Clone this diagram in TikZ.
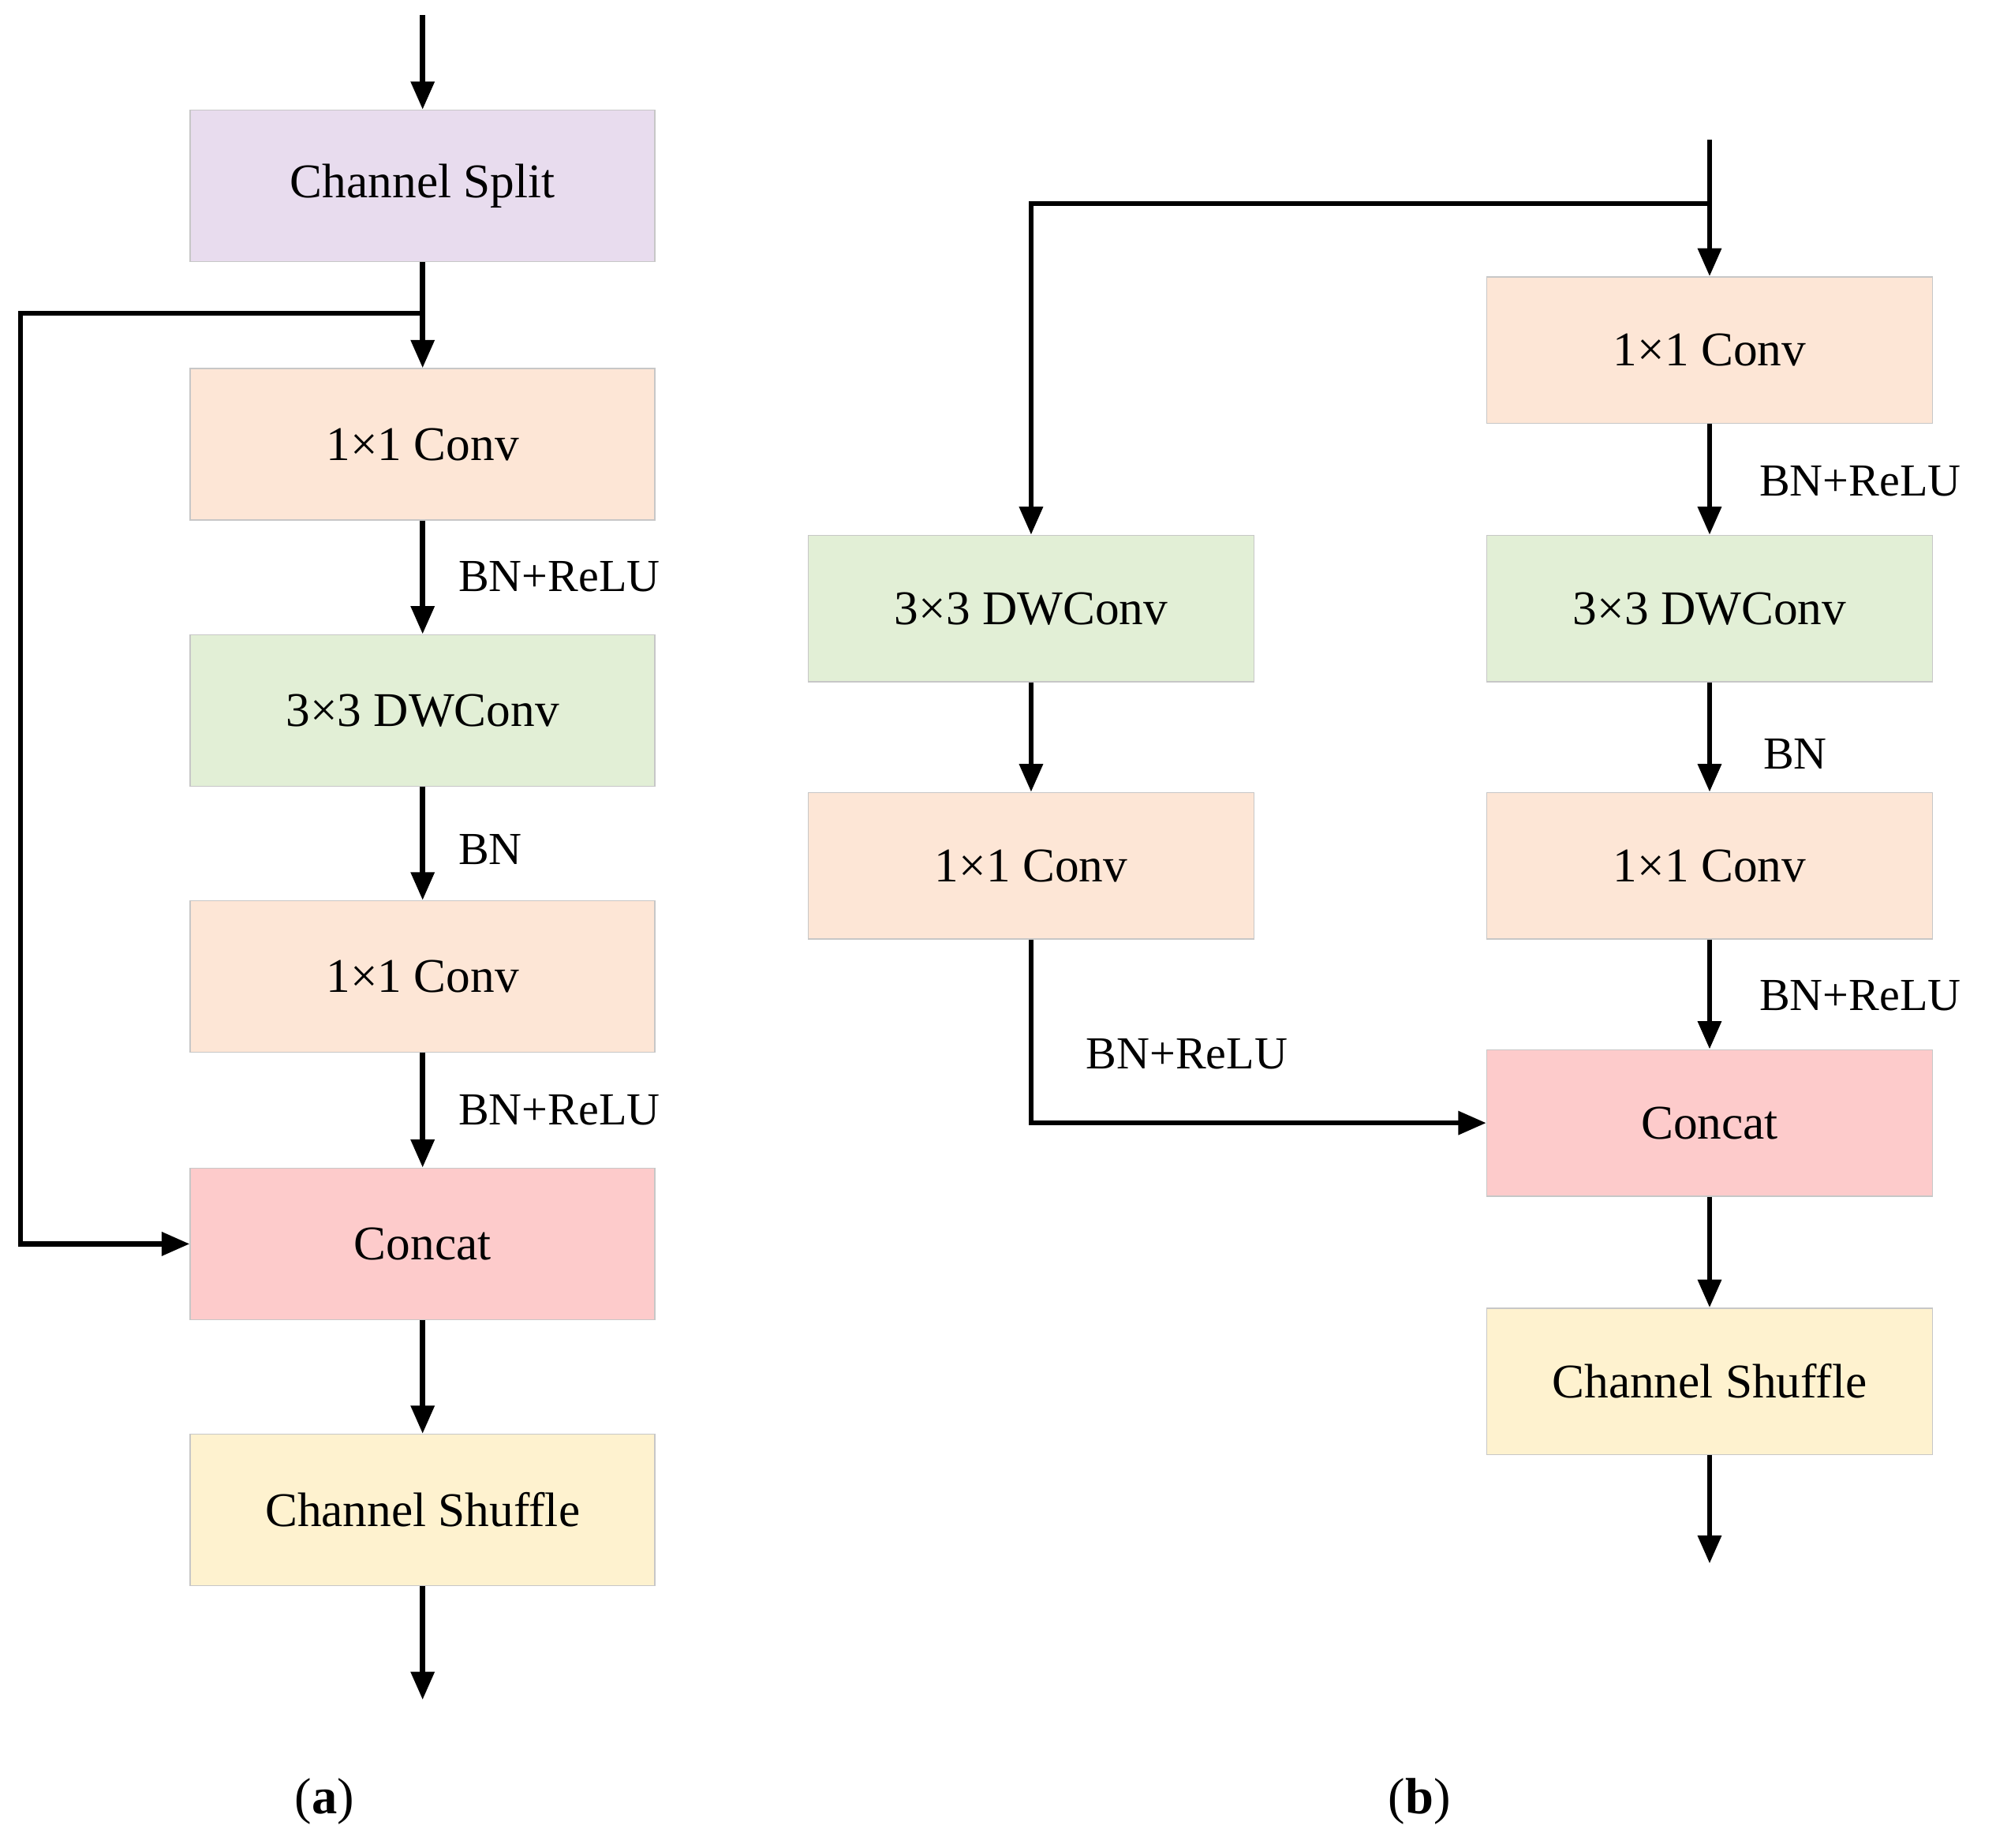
\documentclass[tikz,border=0pt]{standalone}
\usepackage{fontspec}
\setmainfont{Liberation Serif}
\usetikzlibrary{arrows.meta}
\definecolor{cpur}{HTML}{E8DCEE}
\definecolor{cpea}{HTML}{FDE6D6}
\definecolor{cgre}{HTML}{E2EFD6}
\definecolor{cpin}{HTML}{FDCBCB}
\definecolor{cyel}{HTML}{FEF2CF}
\begin{document}
\begin{tikzpicture}[x=1pt,y=-1pt,
  box/.style={draw=black!22,line width=1pt,minimum width=#1,inner sep=0pt,font=\fontsize{38}{40}\selectfont},
  boxa/.style={box=365pt,minimum height=119pt},
  boxb/.style={box=350pt,minimum height=115pt},
  lab/.style={anchor=west,font=\fontsize{36}{38}\selectfont,inner sep=0pt},
  arr/.style={line width=4pt,-{Triangle[length=22pt,width=18pt]}},
  ln/.style={line width=4pt}]
\useasboundingbox (0,0) rectangle (1568,1451);
% (a)
\node[boxa,fill=cpur] (cs) at (332,146) {Channel Split};
\node[boxa,fill=cpea] (c1) at (332,349) {1×1 Conv};
\node[boxa,fill=cgre] (dw) at (332,558) {3×3 DWConv};
\node[boxa,fill=cpea] (c2) at (332,767) {1×1 Conv};
\node[boxa,fill=cpin] (cc) at (332,977) {Concat};
\node[boxa,fill=cyel] (sh) at (332,1186) {Channel Shuffle};
\coordinate (ain) at (332,12);
\coordinate (aout) at (332,1335);
\coordinate (asp) at (332,246);
\coordinate (al) at (16,246);
\coordinate (ab) at (16,977);
\draw[arr] (ain) -- (cs);
\draw[arr] (cs) -- (c1);
\draw[arr] (c1) -- (dw);
\draw[arr] (dw) -- (c2);
\draw[arr] (c2) -- (cc);
\draw[arr] (cc) -- (sh);
\draw[arr] (sh) -- (aout);
\draw[arr] (asp) -- (al) -- (ab) -- (cc);
\node[lab] (l1) at (360,453) {BN+ReLU};
\node[lab] (l2) at (360,667) {BN};
\node[lab] (l3) at (360,872) {BN+ReLU};
\node[font=\fontsize{40}{42}\selectfont] (ta) at (255,1415) {(\textbf{a})};
% (b)
\node[boxb,fill=cpea] (r1) at (1343,275) {1×1 Conv};
\node[boxb,fill=cgre] (r2) at (1343,478) {3×3 DWConv};
\node[boxb,fill=cpea] (r3) at (1343,680) {1×1 Conv};
\node[boxb,fill=cpin] (r4) at (1343,882) {Concat};
\node[boxb,fill=cyel] (r5) at (1343,1085) {Channel Shuffle};
\node[boxb,fill=cgre] (q1) at (810,478) {3×3 DWConv};
\node[boxb,fill=cpea] (q2) at (810,680) {1×1 Conv};
\coordinate (bin) at (1343,110);
\coordinate (bsp) at (1343,160);
\coordinate (bl) at (810,160);
\coordinate (bc) at (810,882);
\coordinate (bout) at (1343,1228);
\draw[arr] (bin) -- (r1);
\draw[arr] (bsp) -- (bl) -- (q1);
\draw[arr] (r1) -- (r2);
\draw[arr] (r2) -- (r3);
\draw[arr] (r3) -- (r4);
\draw[arr] (r4) -- (r5);
\draw[arr] (r5) -- (bout);
\draw[arr] (q1) -- (q2);
\draw[arr] (q2) -- (bc) -- (r4);
\node[lab] (m1) at (1382,378) {BN+ReLU};
\node[lab] (m2) at (1385,592) {BN};
\node[lab] (m3) at (1382,782) {BN+ReLU};
\node[lab] (m4) at (853,828) {BN+ReLU};
\node[font=\fontsize{40}{42}\selectfont] (tb) at (1115,1415) {(\textbf{b})};
\end{tikzpicture}
\end{document}
